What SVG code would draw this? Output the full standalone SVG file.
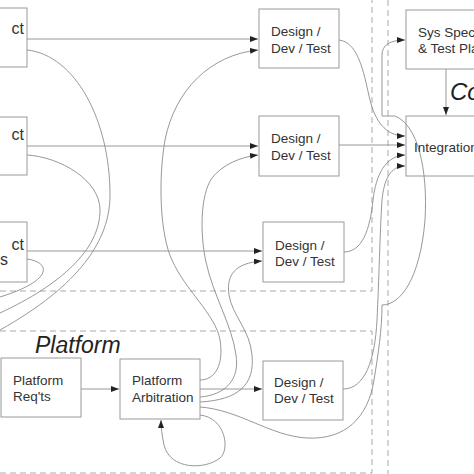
<svg xmlns="http://www.w3.org/2000/svg" width="474" height="474" viewBox="0 0 474 474">
<defs>
<style>
.box{fill:#fff;stroke:#9a9a9a;stroke-width:1}
.t{font-family:"Liberation Sans",Arial,sans-serif;font-size:13.5px;fill:#333}
.ct{font-family:"Liberation Sans",Arial,sans-serif;font-size:16px;fill:#333}
.big{font-family:"Liberation Sans",Arial,sans-serif;font-style:italic;fill:#222}
.ln{fill:none;stroke:#8c8c8c;stroke-width:0.9}
.dash{fill:none;stroke:#aaa;stroke-width:1;stroke-dasharray:6 4}
</style>
<marker id="ah" viewBox="0 0 8 6" refX="8" refY="3" markerWidth="8" markerHeight="6" markerUnits="userSpaceOnUse" orient="auto">
<path d="M0,0 L8,3 L0,6 z" fill="#222"/>
</marker>
</defs>
<rect width="474" height="474" fill="#fff"/>
<g id="regions">
<path class="dash" d="M0,291 H372 V0"/>
<path class="dash" d="M0,331 H372 V473 H0"/>
<path class="dash" d="M388,0 V474"/>
</g>
<g id="connectors">
<path class="ln" d="M27,39 H258" marker-end="url(#ah)"/>
<path class="ln" d="M27,146 H258" marker-end="url(#ah)"/>
<path class="ln" d="M27,251 H262" marker-end="url(#ah)"/>
<path class="ln" d="M27,50 C75,55 110,120 110,195 C110,240 80,285 0,330"/>
<path class="ln" d="M27,155 C60,157 100,180 100,210 C100,250 60,285 0,313"/>
<path class="ln" d="M27,259 C50,262 55,280 0,297"/>
<path class="ln" d="M81,389 H119" marker-end="url(#ah)"/>
<path class="ln" d="M200,380 C215,380 224,365 220,340 C216,315 185,290 172,260 C160,235 158,180 165,140 C175,90 210,55 258,50" marker-end="url(#ah)"/>
<path class="ln" d="M200,389 H262" marker-end="url(#ah)"/>
<path class="ln" d="M200,397 C225,395 240,380 236,355 C232,325 213,295 206,262 C200,235 200,195 212,178 C222,165 240,157 258,155" marker-end="url(#ah)"/>
<path class="ln" d="M200,402 C238,400 255,385 252,355 C250,330 232,315 229,295 C226,275 235,263 262,261" marker-end="url(#ah)"/>
<path class="ln" d="M200,415 C226,418 230,450 220,458 C205,470 170,470 164,445 C162,435 161,428 161,420" marker-end="url(#ah)"/>
<path class="ln" d="M200,407 C240,410 270,436 307,438 C345,440 368,418 374,380 C378,355 382,330 382,305 C400,305 420,280 425,220 C428,170 418,125 395,116 H382 V55 C382,45 390,40 405,40" marker-end="url(#ah)"/>
<path class="ln" d="M339,40 C360,42 365,80 370,100 C375,120 385,136 405,136" marker-end="url(#ah)"/>
<path class="ln" d="M339,145 H405" marker-end="url(#ah)"/>
<path class="ln" d="M344,252 C362,252 370,230 373,200 C376,175 385,156 405,155" marker-end="url(#ah)"/>
<path class="ln" d="M343,389 C365,389 375,360 377,320 C379,280 380,230 382,200 C384,180 390,166 405,166" marker-end="url(#ah)"/>
<path class="ln" d="M446,69 V115" marker-end="url(#ah)"/>
</g>
<g id="prod1"><rect class="box" x="-10" y="8" width="37" height="59"/><text class="ct" x="24" y="34" text-anchor="end">ct</text></g>
<g id="prod2"><rect class="box" x="-10" y="117" width="37" height="58"/><text class="ct" x="24" y="140" text-anchor="end">ct</text></g>
<g id="prod3"><rect class="box" x="-10" y="222" width="37" height="60"/><text class="ct" x="24" y="250" text-anchor="end">ct</text><text class="ct" x="0" y="265">s</text></g>
<g id="d1"><rect class="box" x="259" y="9" width="80" height="59"/><text class="t" x="271" y="36">Design /</text><text class="t" x="271" y="53">Dev / Test</text></g>
<g id="d2"><rect class="box" x="259" y="116" width="80" height="60"/><text class="t" x="271" y="143">Design /</text><text class="t" x="271" y="160">Dev / Test</text></g>
<g id="d3"><rect class="box" x="263" y="222" width="81" height="60"/><text class="t" x="275" y="250">Design /</text><text class="t" x="275" y="266">Dev / Test</text></g>
<g id="d4"><rect class="box" x="263" y="361" width="80" height="59"/><text class="t" x="274" y="387">Design /</text><text class="t" x="274" y="403">Dev / Test</text></g>
<g id="sysspec"><rect class="box" x="406" y="10" width="80" height="59"/><text class="t" x="418" y="37">Sys Spec</text><text class="t" x="418" y="53">&amp; Test Plan</text></g>
<g id="integration"><rect class="box" x="406" y="116" width="80" height="60" fill-opacity="0"/><text class="t" x="414" y="152">Integration</text></g>
<g id="preqts"><rect class="box" x="1" y="358" width="80" height="59"/><text class="t" x="13" y="385">Platform</text><text class="t" x="13" y="401">Req'ts</text></g>
<g id="parb"><rect class="box" x="120" y="359" width="80" height="60"/><text class="t" x="132" y="385">Platform</text><text class="t" x="132" y="402">Arbitration</text></g>
<text class="big" x="35" y="353" font-size="23">Platform</text>
<text class="big" x="450" y="100" font-size="24">Co</text>
</svg>
